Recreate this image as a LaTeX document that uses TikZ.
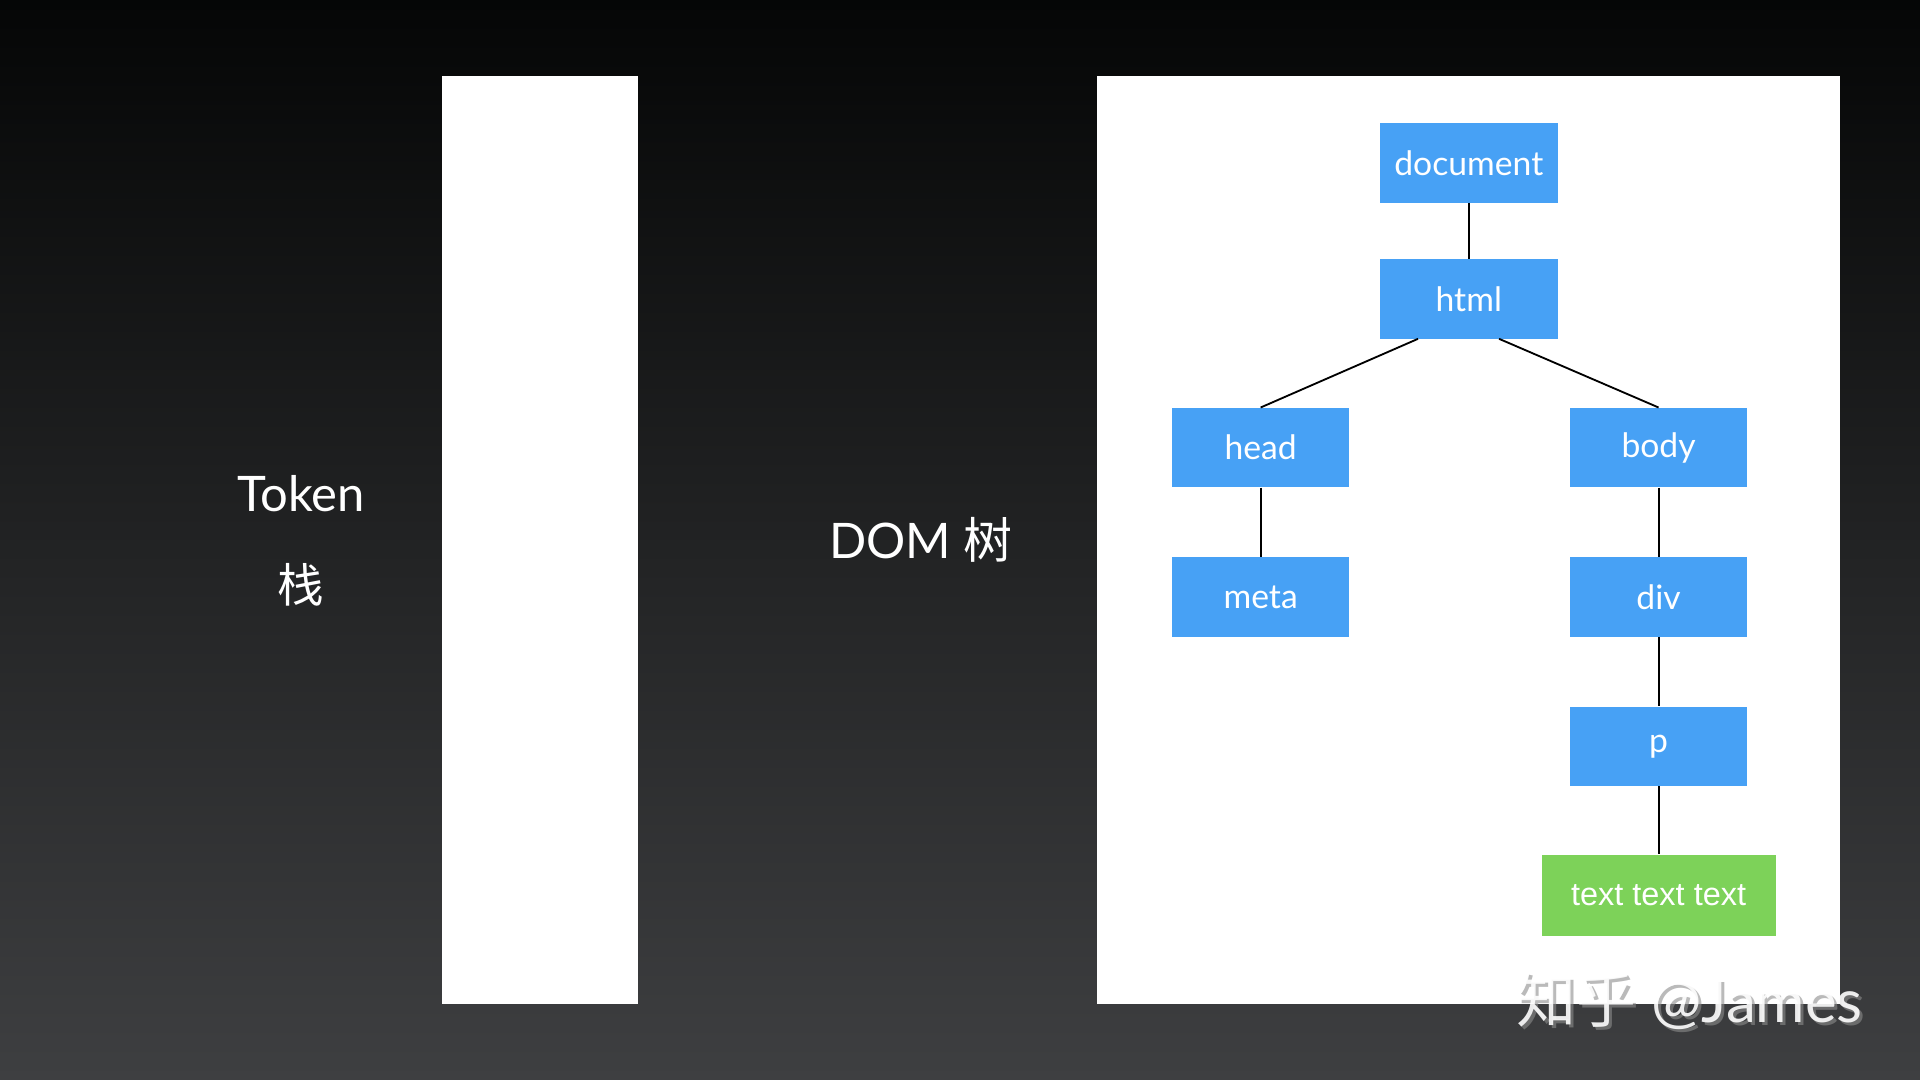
\documentclass[tikz,border=0pt]{standalone}
\usepackage{fontspec}
\usetikzlibrary{calc}
\setmainfont{Lato}
\newfontfamily\cjkfont{Noto Sans CJK SC}
\newfontfamily\arialfont{Liberation Sans}
\definecolor{bgtop}{HTML}{050606}
\definecolor{bgbot}{HTML}{3E3F41}
\definecolor{nodeblue}{HTML}{47A1F5}
\definecolor{nodegreen}{HTML}{7DD259}
\tikzset{
  domnode/.style={fill=nodeblue, text=white, minimum width=145pt, minimum height=65pt, inner sep=0pt, font=\fontsize{27.5}{32}\selectfont},
  textnode/.style={fill=nodegreen, text=white, minimum width=191pt, minimum height=66pt, inner sep=0pt, font=\arialfont\fontsize{26.5}{30}\selectfont},
  edge/.style={draw=black, line width=1.5pt},
  panel/.style={fill=white, draw=none},
  biglabel/.style={text=white, font=\fontsize{40}{48}\selectfont}
}
\begin{document}
\begin{tikzpicture}[x=1pt,y=1pt]
\useasboundingbox (0,0) rectangle (1568,-882);
\shade[top color=bgtop, bottom color=bgbot] (0,0) rectangle (1568,-882);
% panels
\path[panel] (361,-62) rectangle (521,-820);
\path[panel] (896,-62) rectangle (1503,-820);
% labels
\node[biglabel] (token) at (246,-403) {Token};
\node[biglabel, font=\cjkfont\fontsize{38}{44}\selectfont] (zhan) at (246,-478) {栈};
\node[biglabel] (dom) at (752,-441) {DOM {\cjkfont 树}};
% tree nodes
\node[domnode] (document) at (1199.5,-133) {document};
\node[domnode] (html) at (1199.5,-244) {html};
\node[domnode] (head) at (1029.5,-365.5) {head};
\node[domnode] (body) at (1354.5,-365.5) {body};
\node[domnode] (meta) at (1029.5,-487.5) {meta};
\node[domnode] (div) at (1354.5,-487.5) {div};
\node[domnode] (p) at (1354.5,-609.5) {p};
\node[textnode] (txt) at (1354.5,-731) {text text text};
% edges
\draw[edge] (document.south) -- (html.north);
\draw[edge] ($(html.south west)!0.215!(html.south east)$) -- (head.north);
\draw[edge] ($(html.south west)!0.67!(html.south east)$) -- (body.north);
\draw[edge] (head.south) -- (meta.north);
\draw[edge] (body.south) -- (div.north);
\draw[edge] (div.south) -- (p.north);
\draw[edge] (p.south) -- (txt.north);
% watermark
\node[text=black!45, opacity=0.6, font=\fontsize{49}{56}\selectfont, anchor=center] (wmshadow) at (1382.5,-819.5) {{\cjkfont 知乎}\hspace{12pt}@James};
\node[text=white, opacity=0.9, font=\fontsize{49}{56}\selectfont, anchor=center] (wm) at (1380,-817) {{\cjkfont 知乎}\hspace{12pt}@James};
\end{tikzpicture}
\end{document}
